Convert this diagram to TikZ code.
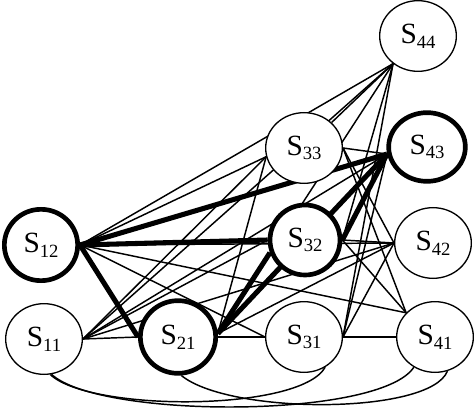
\documentclass[tikz,border=0pt]{standalone}
\usepackage{fontspec}
\setmainfont{Liberation Serif}
\usetikzlibrary{shapes.geometric}
\pgfdeclarelayer{bg}
\pgfsetlayers{bg,main}
\newcommand{\stlab}[1]{S\raisebox{-0.35ex}{\fontsize{14}{14}\selectfont #1}}
\begin{document}
\begin{tikzpicture}[x=0.75pt,y=-0.75pt,
  st/.style={ellipse, draw, fill=white, line width=1pt, minimum width=57.5pt, minimum height=53pt, inner sep=0pt, font=\fontsize{22}{22}\selectfont},
  hl/.style={st, line width=3.5pt},
  ed/.style={line width=1.1pt},
  edh/.style={line width=3.8pt}]
\useasboundingbox (0,0) rectangle (474,413);
\node[st] (S44) at (418,36) {\stlab{44}};
\node[st] (S33) at (304,148) {\stlab{33}};
\node[hl, minimum width=57.5pt, minimum height=51.5pt] (S43) at (427,147) {\stlab{43}};
\node[hl, minimum width=55pt, minimum height=53.5pt] (S12) at (41,245) {\stlab{12}};
\node[hl, minimum width=52.5pt, minimum height=52.5pt] (S32) at (305,240) {\stlab{32}};
\node[st] (S42) at (433,243) {\stlab{42}};
\node[st] (S11) at (44,339) {\stlab{11}};
\node[hl, minimum width=56.5pt, minimum height=54.5pt] (S21) at (178,337) {\stlab{21}};
\node[st] (S31) at (304,337) {\stlab{31}};
\node[st] (S41) at (435,337) {\stlab{41}};
\begin{pgfonlayer}{bg}
% from S12
\draw[edh] (S12.east) -- (S21.west);
\draw[ed] (S12.east) -- (S31.west);
\draw[edh] (S12.east) -- (S32.west);
\draw[ed] (S12.east) -- (S33.193);
\draw[ed] (S12.east) -- (S41.140);
\draw[ed] (S12.east) -- (S42.west);
\draw[edh] (S12.east) -- (S43.190);
\draw[ed] (S12.east) -- (S44.228);
% from S11
\draw[ed] (S11.east) -- (S21.west);
\draw[ed] (S11.east) -- (S32.west);
\draw[ed] (S11.east) -- (S33.193);
\draw[ed] (S11.east) -- (S42.west);
\draw[ed] (S11.east) -- (S43.190);
\draw[ed] (S11.east) -- (S44.228);
\draw[ed] (S11.280) .. controls (90,412) and (300,412) .. (S31.305);
\draw[ed] (S11.282) .. controls (100,419) and (380,419) .. (S41.235);
% from S21
\draw[ed] (S21.east) -- (S31.west);
\draw[edh] (S21.5) -- (S32.200);
\draw[ed] (S21.5) -- (S33.193);
\draw[ed] (S21.5) -- (S42.west);
\draw[edh] (S21.5) -- (S43.190);
\draw[ed] (S21.5) -- (S44.228);
\draw[ed] (S21.275) .. controls (230,415) and (430,415) .. (S41.290);
% stage 3 to 4
\draw[ed] (S31.east) -- (S41.west);
\draw[ed] (S31.east) -- (S42.west);
\draw[ed] (S31.east) -- (S43.190);
\draw[ed] (S31.east) -- (S44.228);
\draw[ed] (S32.east) -- (S41.140);
\draw[ed] (S32.east) -- (S42.west);
\draw[edh] (S32.east) -- (S43.190);
\draw[ed] (S32.east) -- (S44.228);
\draw[ed] (S33.east) -- (S41.140);
\draw[ed] (S33.east) -- (S42.west);
\draw[ed] (S33.east) -- (S43.190);
\draw[ed] (S33.north east) -- (S44.228);
\end{pgfonlayer}
\end{tikzpicture}
\end{document}
